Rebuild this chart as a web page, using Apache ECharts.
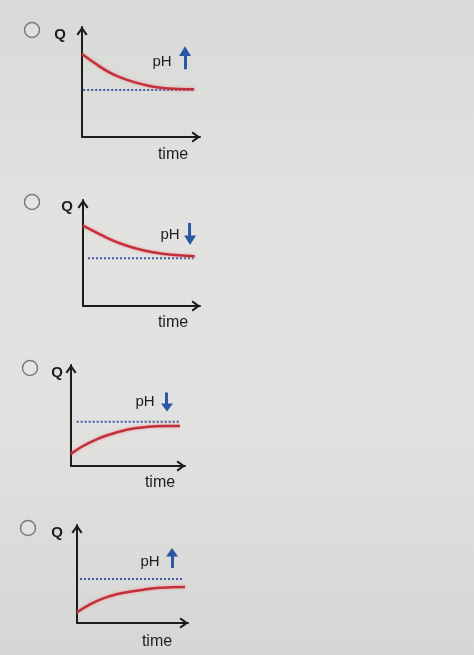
<!DOCTYPE html>
<html><head><meta charset="utf-8">
<script src="https://cdn.jsdelivr.net/npm/echarts@6/dist/echarts.min.js"></script>
<style>
html,body{margin:0;padding:0;width:474px;height:655px;overflow:hidden;
background:linear-gradient(to bottom,#d8dad7 0%,#e2e3e0 35%,#e1e2df 65%,#d6d7d4 100%);}
#c{width:474px;height:655px;}
</style></head><body><div id="c"></div>
<script>
// Red Q(t) curves (x: time 0..10, y: Q 0..10)
const redX1 = [0, 1.1, 2.2, 3.3, 4.5, 5.6, 6.7, 7.8, 9.5];
const redY1 = [7.55, 6.7, 5.94, 5.39, 4.97, 4.66, 4.48, 4.38, 4.34];
const redX2 = [0, 1.28, 2.42, 3.56, 4.7, 5.84, 6.98, 8.12, 9.55];
const redY2 = [7.58, 6.86, 6.23, 5.75, 5.38, 5.09, 4.91, 4.78, 4.69];
const redX3 = [0, 0.94, 2.1, 3.27, 4.45, 5.61, 6.78, 8.25, 9.56];
const redY3 = [1.2, 1.91, 2.57, 3.07, 3.47, 3.73, 3.89, 3.96, 3.97];
const redX4 = [0, 1.17, 2.37, 3.57, 4.77, 5.97, 7.18, 8.38, 9.73];
const redY4 = [1.09, 1.91, 2.52, 2.93, 3.19, 3.4, 3.57, 3.64, 3.67];
// Dotted K (equilibrium) lines: [xStart, xEnd, y]
const kLine1 = [0.1, 9.6, 4.27];
const kLine2 = [0.43, 9.45, 4.5];
const kLine3 = [0.5, 9.56, 4.39];
const kLine4 = [0.27, 9.58, 4.49];
// pH arrow direction per panel
const phDir = ['up', 'down', 'down', 'up'];
const labels = {y: 'Q', x: 'time', ph: 'pH'};

const panels = [
  {grid:{left:82, top:27, width:118, height:110}, rx:redX1, ry:redY1, k:kLine1, ph:[6.78,6.8], ar:[8.73,7.2], ah:23,
   q:[60,35], t:[173,155], o:[32,30]},
  {grid:{left:83, top:200, width:117, height:106}, rx:redX2, ry:redY2, k:kLine2, ph:[7.44,6.7], ar:[9.15,6.8], ah:22,
   q:[67,207], t:[173,323], o:[32,202]},
  {grid:{left:71, top:365, width:114, height:101}, rx:redX3, ry:redY3, k:kLine3, ph:[6.5,6.34], ar:[8.42,6.34], ah:19,
   q:[57,373], t:[160,483], o:[30,368]},
  {grid:{left:77, top:525, width:111, height:98}, rx:redX4, ry:redY4, k:kLine4, ph:[6.58,6.22], ar:[8.56,6.63], ah:20,
   q:[57,533], t:[157,642], o:[28,528]}
];

const arrowPath = 'path://M5,0 L11,8.5 L7,8.5 L7,20 L4,20 L4,8.5 L-1,8.5 Z';
const chevron = 'path://M5,0 L10,7 L8.4,8 L5,3.2 L1.6,8 L0,7 Z';
const axisLine = {show:true, symbol:['none',chevron], symbolSize:[11,9], symbolOffset:[0,-4],
  lineStyle:{color:'#1c1c1c', width:2}};
const grids=[], xAxes=[], yAxes=[], series=[], graphics=[];
const font = '"Liberation Sans", Arial, sans-serif';

panels.forEach((p,i)=>{
  grids.push(p.grid);
  xAxes.push({type:'value', gridIndex:i, min:0, max:10, axisLine:axisLine, axisTick:{show:false}, axisLabel:{show:false}, splitLine:{show:false}});
  yAxes.push({type:'value', gridIndex:i, min:0, max:10, axisLine:axisLine, axisTick:{show:false}, axisLabel:{show:false}, splitLine:{show:false}});
  series.push({type:'line', xAxisIndex:i, yAxisIndex:i, smooth:0.4, symbol:'none', z:3,
    data:p.rx.map((x,j)=>[x,p.ry[j]]),
    lineStyle:{color:'#c2303a', width:2.5, shadowColor:'rgba(240,120,130,0.7)', shadowBlur:3}});
  series.push({type:'line', xAxisIndex:i, yAxisIndex:i, symbol:'none', z:2,
    data:[[p.k[0],p.k[2]],[p.k[1],p.k[2]]],
    lineStyle:{color:'#3d5a9e', width:2, type:[2,2]}});
  series.push({type:'scatter', xAxisIndex:i, yAxisIndex:i, symbolSize:0, silent:true,
    itemStyle:{opacity:1},
    data:[p.ph], label:{show:true, formatter:labels.ph, position:'inside', color:'#1e1e1e', fontSize:15, fontFamily:font}});
  series.push({type:'scatter', xAxisIndex:i, yAxisIndex:i, silent:true,
    symbol:arrowPath, symbolSize:[12,p.ah], symbolRotate: phDir[i]==='up'?0:180,
    itemStyle:{color:'#2a58a6', opacity:1}, data:[p.ar]});
  graphics.push({type:'circle', shape:{cx:p.o[0], cy:p.o[1], r:7.5}, style:{fill:'rgba(255,255,255,0.15)', stroke:'#7a7a7a', lineWidth:1.5}});
  graphics.push({type:'text', x:p.q[0], y:p.q[1], style:{text:labels.y, fill:'#1e1e1e', font:'bold 15px '+font, textAlign:'center', textVerticalAlign:'middle'}});
  graphics.push({type:'text', x:p.t[0], y:p.t[1], style:{text:labels.x, fill:'#1e1e1e', font:'16px '+font, textAlign:'center', textVerticalAlign:'middle'}});
});

const chart = echarts.init(document.getElementById('c'));
chart.setOption({animation:false, grid:grids, xAxis:xAxes, yAxis:yAxes, series:series, graphic:graphics});
</script></body></html>
